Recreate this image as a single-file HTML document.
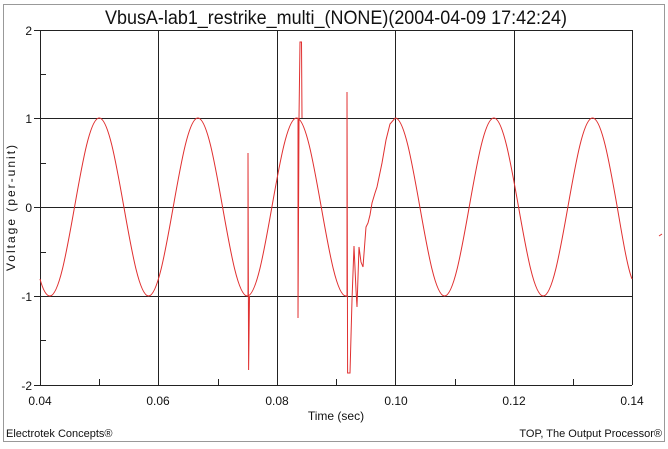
<!DOCTYPE html>
<html><head><style>
body{margin:0;background:#fff;}
svg{display:block;font-family:"Liberation Sans",sans-serif;}
</style></head><body>
<svg width="668" height="449" viewBox="0 0 668 449">
<rect x="3.5" y="4.5" width="661" height="437" fill="#fff" stroke="#999" stroke-width="1"/>
<text x="336" y="24" font-size="19" text-anchor="middle" fill="#111" textLength="462" lengthAdjust="spacingAndGlyphs">VbusA-lab1_restrike_multi_(NONE)(2004-04-09 17:42:24)</text>
<g stroke="#222" stroke-width="1">
<line x1="40" y1="30.5" x2="632" y2="30.5"/>
<line x1="40" y1="118.5" x2="632" y2="118.5"/>
<line x1="40" y1="207.5" x2="632" y2="207.5"/>
<line x1="40" y1="296.5" x2="632" y2="296.5"/>
<line x1="40" y1="385.5" x2="632" y2="385.5"/>
<line x1="40.5" y1="30" x2="40.5" y2="385"/>
<line x1="158.5" y1="30" x2="158.5" y2="385"/>
<line x1="277.5" y1="30" x2="277.5" y2="385"/>
<line x1="395.5" y1="30" x2="395.5" y2="385"/>
<line x1="514.5" y1="30" x2="514.5" y2="385"/>
<line x1="632.5" y1="30" x2="632.5" y2="385"/>
<line x1="34" y1="30.5" x2="40" y2="30.5"/><line x1="34" y1="118.5" x2="40" y2="118.5"/><line x1="34" y1="207.5" x2="40" y2="207.5"/><line x1="34" y1="296.5" x2="40" y2="296.5"/><line x1="34" y1="385.5" x2="40" y2="385.5"/>
<line x1="40" y1="74.5" x2="46" y2="74.5"/><line x1="40" y1="163.5" x2="46" y2="163.5"/><line x1="40" y1="252.5" x2="46" y2="252.5"/><line x1="40" y1="340.5" x2="46" y2="340.5"/>
<line x1="99.5" y1="379" x2="99.5" y2="385"/><line x1="218.5" y1="379" x2="218.5" y2="385"/><line x1="336.5" y1="379" x2="336.5" y2="385"/><line x1="455.5" y1="379" x2="455.5" y2="385"/><line x1="573.5" y1="379" x2="573.5" y2="385"/>
</g>
<g font-size="12" fill="#111" text-anchor="end">
<text x="32" y="35">2</text><text x="32" y="123">1</text><text x="32" y="212">0</text><text x="32" y="301">-1</text><text x="32" y="390">-2</text>
</g>
<g font-size="12" fill="#111" text-anchor="middle">
<text x="40" y="405">0.04</text><text x="158" y="405">0.06</text><text x="277" y="405">0.08</text><text x="396" y="405">0.10</text><text x="514" y="405">0.12</text><text x="632" y="405">0.14</text>
<text x="336" y="420">Time (sec)</text>
</g>
<text transform="translate(15,207) rotate(-90)" font-size="12" fill="#111" text-anchor="middle" letter-spacing="2">Voltage (per-unit)</text>
<text x="6" y="437" font-size="11" fill="#111">Electrotek Concepts®</text>
<text x="662" y="437" font-size="11" fill="#111" text-anchor="end">TOP, The Output Processor®</text>
<g fill="none" stroke="#e03030" stroke-width="1">
<path d="M40 279 C43 290 46 296 49.87 296
c 8.93 0 16.63 -43.4 24.67 -89 c 8.04 -45.6 15.74 -89 24.67 -89 c 8.93 0 16.63 43.4 24.67 89 c 8.04 45.6 15.74 89 24.67 89
c 8.93 0 16.63 -43.4 24.67 -89 c 8.04 -45.6 15.74 -89 24.67 -89 c 8.93 0 16.63 43.4 24.67 89 c 8.04 45.6 15.74 89 24.67 89
c 8.93 0 16.63 -43.4 24.67 -89 c 8.04 -45.6 15.74 -89 24.67 -89 c 8.93 0 16.63 43.4 24.67 89 c 8.04 45.6 15.74 89 24.67 89
L347 296 L347 92 L347.6 373 L350 373 L352 300 L354 246 L356 290 L357 307 L359 247 L361 262 L363 267 L366 227 L368 223 L370 215 L372 203 L375 193 L377 187 L382 163 L386 140 L390 124 L395.2 118
c 8.93 0 16.63 43.4 24.67 89 c 8.04 45.6 15.74 89 24.67 89 c 8.93 0 16.63 -43.4 24.67 -89 c 8.04 -45.6 15.74 -89 24.67 -89
c 8.93 0 16.63 43.4 24.67 89 c 8.04 45.6 15.74 89 24.67 89 c 8.93 0 16.63 -43.4 24.67 -89 c 8.04 -45.6 15.74 -89 24.67 -89
c 8.93 0 16.63 43.4 24.67 89 c 5 29 10 60 14.8 72"/>
<path d="M248 296 L248 153 L248.6 370 L249.5 296"/>
<path d="M298 118 L298 318 L299 118 L300 42 L301.5 42 L302 118"/>
<line x1="659" y1="236" x2="662" y2="234"/>
</g>
</svg>
</body></html>
